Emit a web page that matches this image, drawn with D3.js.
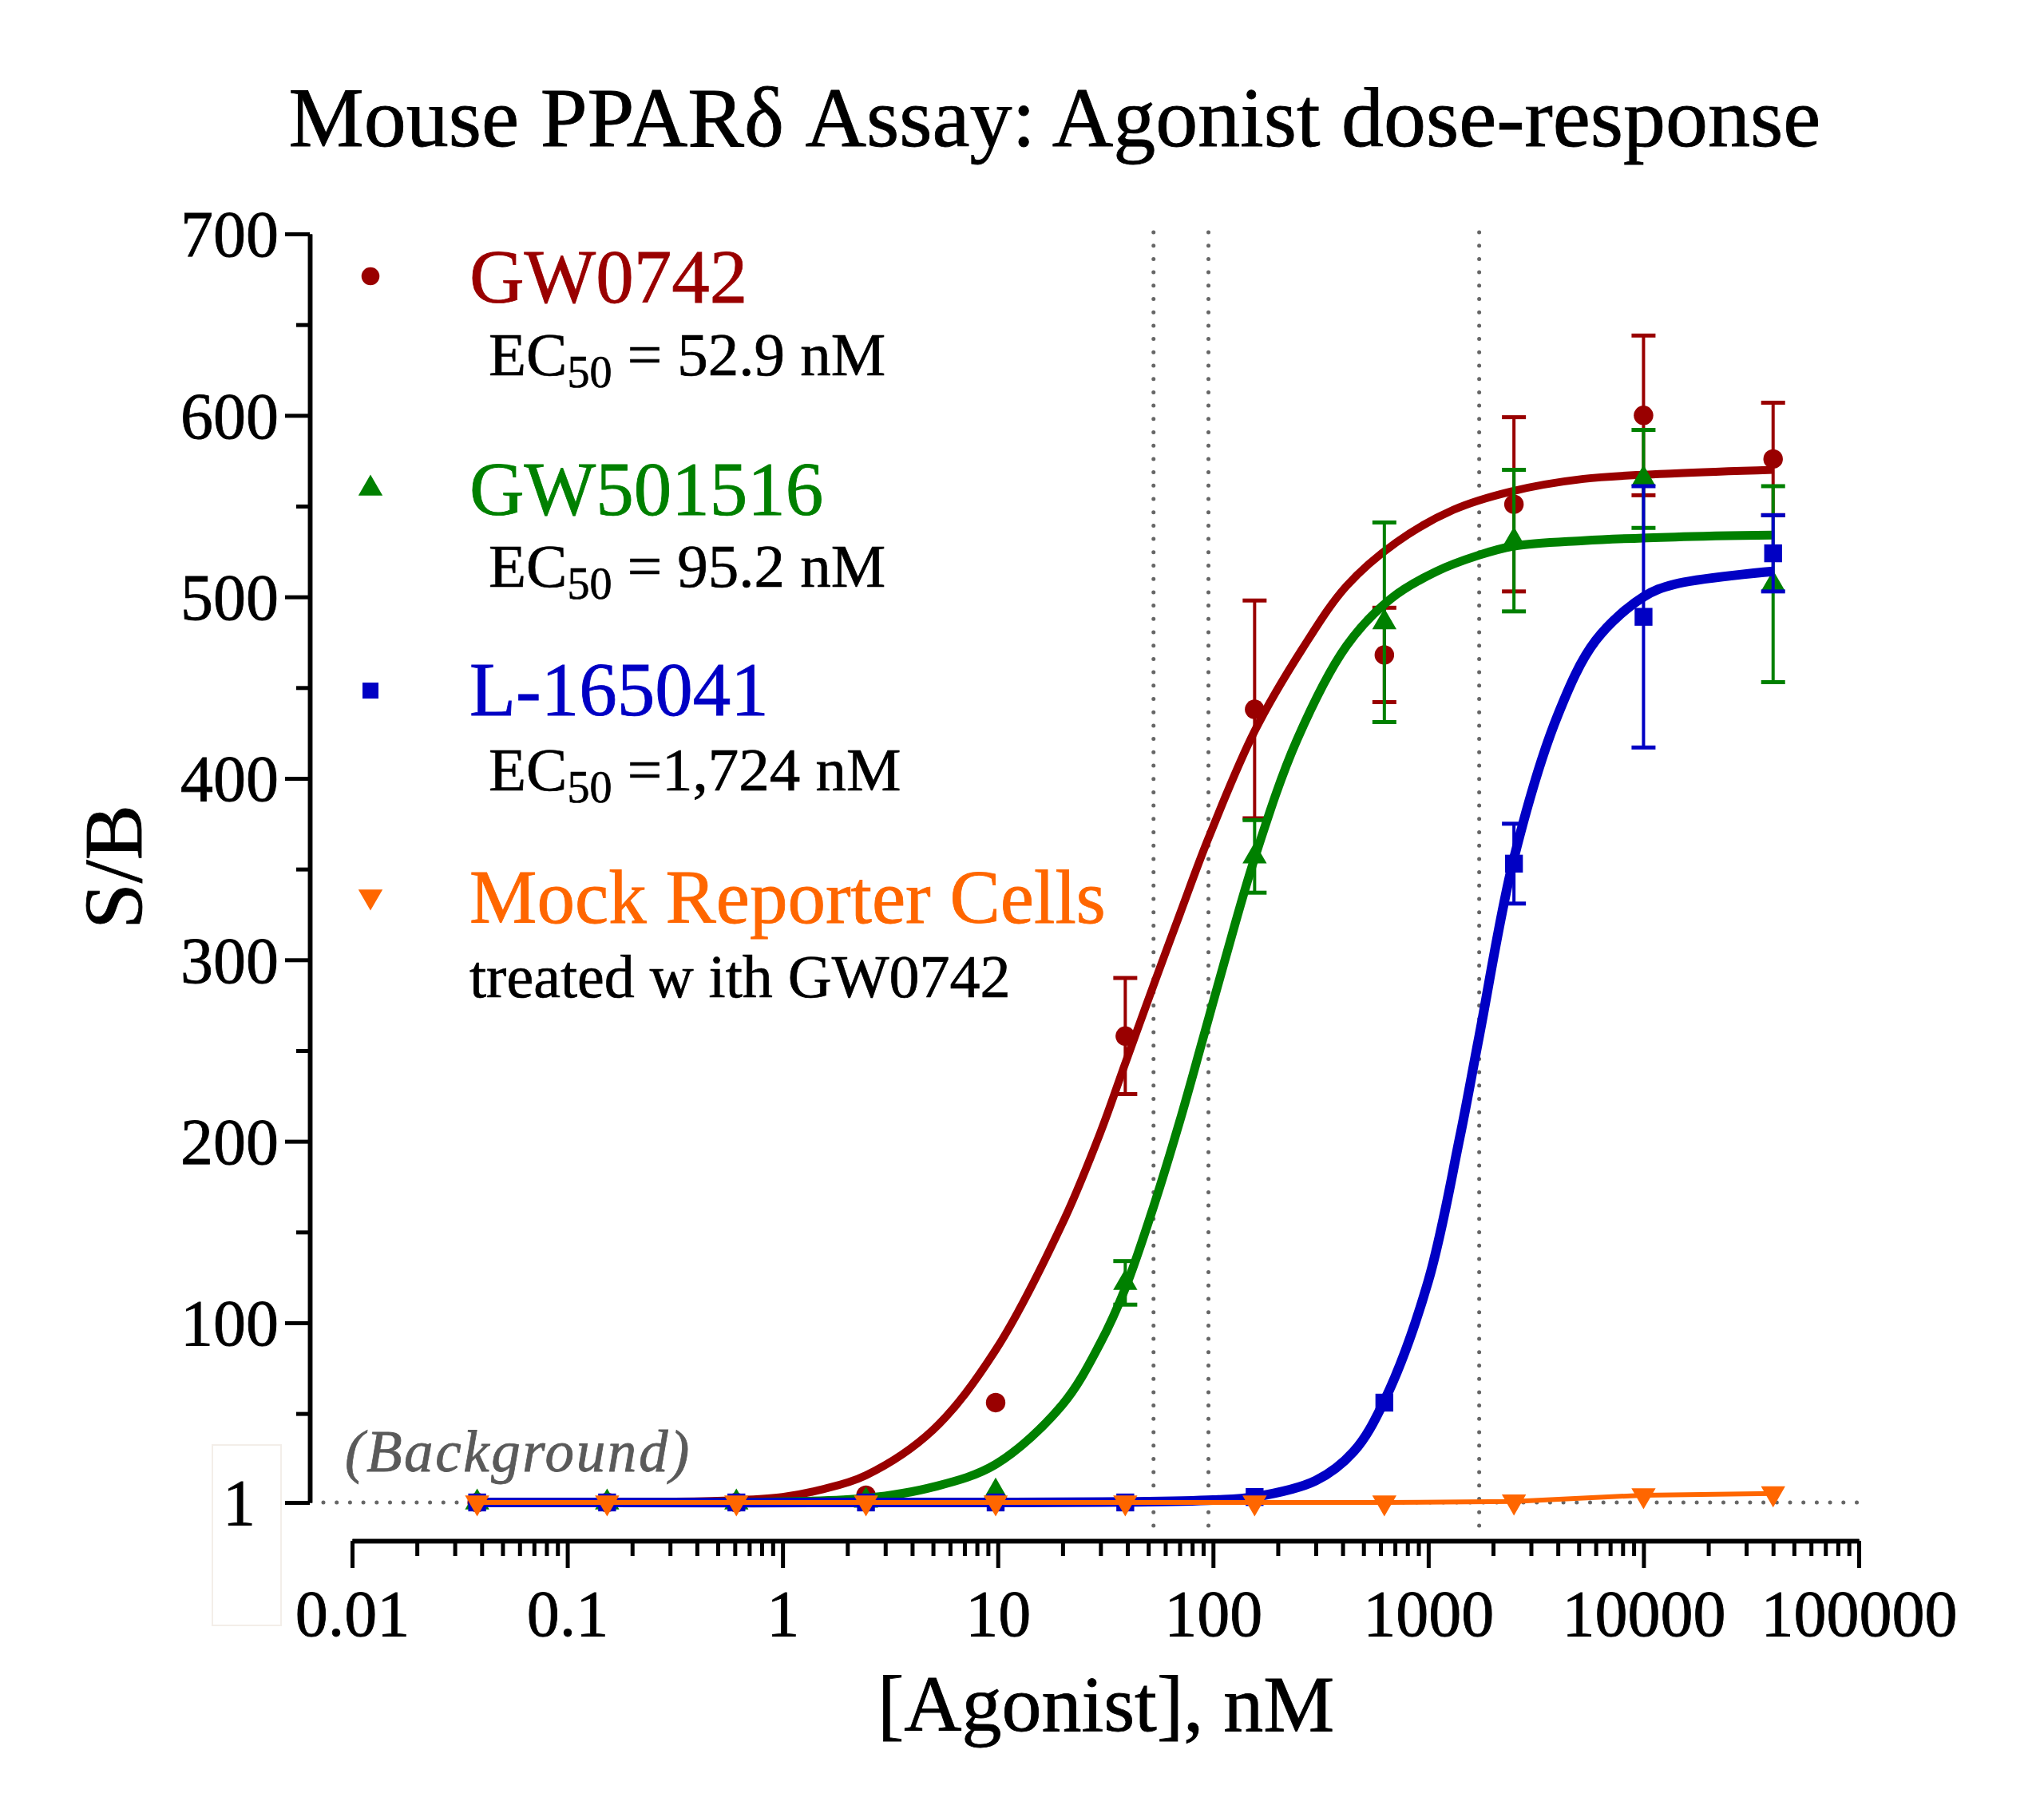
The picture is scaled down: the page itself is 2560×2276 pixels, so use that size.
<!DOCTYPE html>
<html><head><meta charset="utf-8">
<script src="https://cdn.jsdelivr.net/npm/d3@7"></script>
<style>
body{margin:0;background:#fff}
svg{display:block}
text{font-family:"Liberation Serif","Times New Roman",serif}
</style>
</head><body>
<svg id="c" width="2560" height="2276"></svg>
<script>
// ---------- data ----------
const conc = [0.0381, 0.153, 0.610, 2.44, 9.77, 39.1, 156, 625, 2500, 10000, 40000];

const gw0742     = [1, 1, 1, 5, 56, 258, 438, 468, 551, 600, 576];
const gw0742Err  = [0, 0, 0, 0, 0, 32, 60, 26, 48, 44, 31];
const gw501516   = [1, 1, 1, 2, 7, 122, 357, 486, 531, 565, 507];
const gw501516Err= [0, 0, 0, 0, 0, 12, 20, 55, 39, 27, 54];
const l165041    = [1, 1, 1, 1, 1, 1, 4, 56, 353, 489, 524];
const l165041Err = [0, 0, 0, 0, 0, 0, 0, 0, 22, 72, 21];
const mock       = [1, 1, 1, 1, 1, 1, 1, 1, 1.5, 5, 6];

// fitted curves
const gw0742FitX = [0.0381, 0.3, 0.6, 1, 1.5, 2.44, 5, 9.77, 20, 30, 39.1, 52.9, 70, 95.2, 156, 262, 417, 710, 1310, 2410, 5260, 14000, 40000];
const gw0742FitY = [1, 1.4, 2.2, 4, 8, 16, 41, 85, 155, 205, 243, 286, 325, 367, 426, 472, 506, 530, 548, 558, 565, 568, 570];
const gw501516FitX = [0.0381, 0.6, 1, 2.44, 5, 9.77, 20, 30, 39.1, 52.9, 70, 90, 113, 156, 245, 417, 670, 1090, 1720, 2500, 5260, 14000, 40000];
const gw501516FitY = [1, 1, 1.4, 3.3, 9.5, 22, 55, 89, 119, 164, 211, 257, 299, 356, 421, 473, 499, 514, 523, 528, 531, 533, 534];
const l165041FitX = [0.0381, 10, 39.1, 100, 156, 300, 450, 625, 1000, 1400, 1724, 2500, 4000, 6000, 10000, 14000, 40000];
const l165041FitY = [1, 1, 1.3, 2.3, 4, 13, 29, 57, 123, 202, 258, 356, 435, 476, 500, 507, 514];

const ec50Lines = [52.9, 95.2, 1724];
const xTickVals = [0.01, 0.1, 1, 10, 100, 1000, 10000, 100000];
const xTickLabels = ["0.01", "0.1", "1", "10", "100", "1000", "10000", "100000"];
const yTickVals = [1, 100, 200, 300, 400, 500, 600, 700];
const yTickLabels = ["1", "100", "200", "300", "400", "500", "600", "700"];
const yMinorVals = [50, 150, 250, 350, 450, 550, 650];

const seriesNames = ["GW0742", "GW501516", "L-165041", "Mock Reporter Cells"];
const ec50Texts = [" = 52.9 nM", " = 95.2 nM", " =1,724 nM"];
const colors = ["#990000", "#008000", "#0000c4", "#ff6600"];

// ---------- scales ----------
const svg = d3.select("#c");
const x = d3.scaleLog().domain([0.01, 100000]).range([441, 2328]);
const y = d3.scaleLinear().domain([1, 700]).range([1882, 293]);

// faint box behind the "1" label (artifact in reference)
svg.append("rect").attr("x", 266).attr("y", 1810).attr("width", 86).attr("height", 226)
  .attr("fill", "none").attr("stroke", "#f3eee9").attr("stroke-width", 2);

// ---------- dotted reference lines ----------
const dotStyle = s => s.attr("stroke", "#666").attr("stroke-width", 5)
  .attr("stroke-linecap", "round").attr("stroke-dasharray", "0 16.7").attr("fill", "none");

svg.append("line")
  .attr("x1", x.range()[0] - 36).attr("x2", x.range()[1])
  .attr("y1", y(1)).attr("y2", y(1)).call(dotStyle);

svg.selectAll("line.vref").data(ec50Lines).join("line").attr("class", "vref")
  .attr("x1", d => x(d)).attr("x2", d => x(d))
  .attr("y1", y(700) - 2).attr("y2", y(1) + 33).call(dotStyle);

// ---------- axes ----------
const yAxis = svg.append("g").attr("transform", `translate(388,0)`)
  .call(d3.axisLeft(y).tickValues(yTickVals).tickSize(31).tickSizeOuter(0).tickPadding(8)
    .tickFormat((d, i) => yTickLabels[i]));
svg.append("g").attr("transform", `translate(388,0)`)
  .call(d3.axisLeft(y).tickValues(yMinorVals).tickSize(17).tickSizeOuter(0).tickFormat(""));

const xMinor = [];
xTickVals.slice(0, -1).forEach(d => { for (let k = 2; k <= 9; k++) xMinor.push(d * k); });
const xAxis = svg.append("g").attr("transform", `translate(0,1930)`)
  .call(d3.axisBottom(x).tickValues(xTickVals).tickSize(34).tickSizeOuter(0)
    .tickFormat((d, i) => xTickLabels[i]));
svg.append("g").attr("transform", `translate(0,1930)`)
  .call(d3.axisBottom(x).tickValues(xMinor).tickSize(19).tickSizeOuter(0).tickFormat(""));

svg.selectAll(".domain").attr("stroke", "#000").attr("stroke-width", 5.5);
svg.selectAll(".tick line").attr("stroke", "#000").attr("stroke-width", 5);
svg.selectAll(".tick text").attr("font-family", "Liberation Serif").attr("font-size", 82)
  .attr("fill", "#000").attr("stroke", "#000").attr("stroke-width", 0.8);
xAxis.selectAll(".tick text").attr("y", 119).attr("dy", 0);
yAxis.selectAll(".tick text").attr("dy", "0.34em")
  .filter(d => d === 1).attr("x", -68);

// ---------- series ----------
const series = [
  {v: gw0742, e: gw0742Err, fx: gw0742FitX, fy: gw0742FitY, sym: d3.symbolCircle, size: 470, w: 10, rot: 0},
  {v: gw501516, e: gw501516Err, fx: gw501516FitX, fy: gw501516FitY, sym: d3.symbolTriangle, size: 400, w: 11, rot: 0},
  {v: l165041, e: l165041Err, fx: l165041FitX, fy: l165041FitY, sym: d3.symbolSquare, size: 500, w: 12, rot: 0},
  {v: mock, e: null, fx: conc, fy: mock, sym: d3.symbolTriangle, size: 400, w: 6, rot: 180, linear: true}
];

series.forEach((s, si) => {
  const g = svg.append("g");
  const col = colors[si];
  // error bars
  if (s.e) {
    const eb = conc.map((c, i) => ({c, v: s.v[i], e: s.e[i]})).filter(d => d.e > 0);
    g.selectAll("line.eb").data(eb).join("line").attr("class", "eb")
      .attr("x1", d => x(d.c)).attr("x2", d => x(d.c))
      .attr("y1", d => y(d.v - d.e)).attr("y2", d => y(d.v + d.e))
      .attr("stroke", col).attr("stroke-width", 4);
    [["capLo", -1], ["capHi", 1]].forEach(([cls, sign]) => {
      g.selectAll("line." + cls).data(eb).join("line").attr("class", cls)
        .attr("x1", d => x(d.c) - 15).attr("x2", d => x(d.c) + 15)
        .attr("y1", d => y(d.v + sign * d.e))
        .attr("y2", d => y(d.v + sign * d.e))
        .attr("stroke", col).attr("stroke-width", 5);
    });
  }
  // curve
  const line = d3.line().x(d => x(d[0])).y(d => y(d[1]))
    .curve(s.linear ? d3.curveLinear : d3.curveCatmullRom.alpha(0.5));
  g.append("path").datum(s.fx.map((c, i) => [c, s.fy[i]]))
    .attr("d", line).attr("fill", "none").attr("stroke", col)
    .attr("stroke-width", s.w).attr("stroke-linejoin", "round");
  // markers
  g.selectAll("path.m").data(conc.map((c, i) => [c, s.v[i]])).join("path").attr("class", "m")
    .attr("d", d3.symbol().type(s.sym).size(s.size))
    .attr("transform", d => `translate(${x(d[0])},${y(d[1])}) rotate(${s.rot})`)
    .attr("fill", col);
});

// ---------- legend ----------
const legY = [346, 612, 865, 1123];
const nameBase = [379, 645, 896, 1156];
const ecBase = [470, 735, 990];
series.forEach((s, i) => {
  svg.append("path").attr("d", d3.symbol().type(s.sym).size(400)())
    .attr("transform", `translate(464,${legY[i]}) rotate(${s.rot})`).attr("fill", colors[i]);
  svg.append("text").attr("x", 588).attr("y", nameBase[i]).attr("font-size", 95)
    .attr("fill", colors[i]).attr("stroke", colors[i]).attr("stroke-width", 0.8).text(seriesNames[i]);
});
ec50Texts.forEach((t, i) => {
  const tx = svg.append("text").attr("x", 612).attr("y", ecBase[i]).attr("font-size", 77)
    .attr("fill", "#000").attr("stroke", "#000").attr("stroke-width", 0.7);
  tx.append("tspan").text("EC");
  tx.append("tspan").attr("font-size", 56).attr("dy", 15).text("50");
  tx.append("tspan").attr("dy", -15).text(t);
});
svg.append("text").attr("x", 588).attr("y", 1249).attr("font-size", 76).attr("fill", "#000")
  .attr("stroke", "#000").attr("stroke-width", 0.7).text("treated w ith GW0742");

// background label
svg.append("text").attr("x", 432).attr("y", 1843).attr("font-size", 73)
  .attr("font-style", "italic").attr("fill", "#5a5a5a").attr("stroke", "#5a5a5a").attr("stroke-width", 0.8)
  .attr("letter-spacing", 2.6).text("(Background)");

// ---------- titles ----------
svg.append("text").attr("x", 1321).attr("y", 183).attr("text-anchor", "middle")
  .attr("font-size", 106).attr("fill", "#000").attr("stroke", "#000").attr("stroke-width", 0.8)
  .text("Mouse PPARδ Assay: Agonist dose-response");
svg.append("text").attr("x", 1385).attr("y", 2168).attr("text-anchor", "middle")
  .attr("font-size", 100).attr("fill", "#000").attr("stroke", "#000").attr("stroke-width", 0.8)
  .text("[Agonist], nM");
svg.append("text").attr("transform", "translate(177,1086) rotate(-90)").attr("text-anchor", "middle")
  .attr("font-size", 104).attr("fill", "#000").attr("stroke", "#000").attr("stroke-width", 0.8).text("S/B");
</script>
</body></html>
